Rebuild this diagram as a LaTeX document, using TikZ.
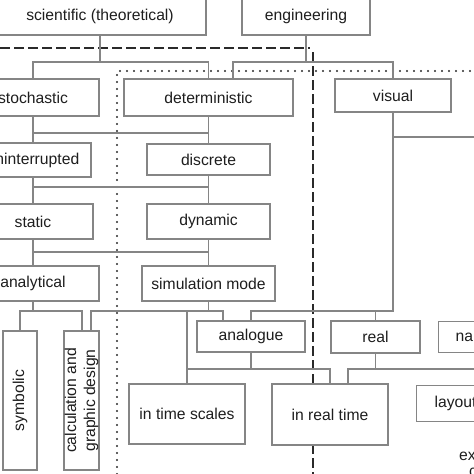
\documentclass[tikz,border=0pt]{standalone}
\usepackage{fontspec}
\setmainfont{Liberation Sans}
\definecolor{linegray}{HTML}{858585}
\definecolor{textc}{HTML}{1E1E1E}
\definecolor{divc}{HTML}{2A2A2A}
\begin{document}
\begin{tikzpicture}[x=1pt,y=-1pt,
  box/.style={draw=linegray, line width=1.2pt, fill=white, text=textc,
    font=\fontsize{15.7}{19}\selectfont, inner sep=0pt},
  conn/.style={draw=linegray, line width=1.2pt},
  dashdiv/.style={draw=divc, line width=2pt, dash pattern=on 9.5pt off 4.5pt},
  dotdiv/.style={draw=divc, line width=2.2pt, line cap=round, dash pattern=on 0pt off 7pt},
  frag/.style={text=textc, font=\fontsize{15.7}{19}\selectfont, inner sep=0pt}]
\useasboundingbox (0,0) rectangle (474,474);
\clip (0,0) rectangle (474,474);

% row coordinates
\coordinate (r1) at (0,62);
\coordinate (r2) at (0,133);
\coordinate (r3) at (0,187);
\coordinate (r4) at (0,252);
\coordinate (r5) at (0,311);
\coordinate (r6) at (0,369);
\coordinate (vR) at (474,137);
\coordinate (r6e) at (474,369);

% dividers
\draw[dashdiv] (0,48) -- (310,48);
\draw[dashdiv] (313,52) -- (313,474);
\draw[dotdiv] (117,474) -- (117,71) -- (474,71);

% boxes (positions)
\path
  (100,16.5) node[box, minimum width=212pt, minimum height=37pt] (sci) {scientific (theoretical)}
  (306,16.5) node[box, minimum width=128pt, minimum height=37pt] (eng) {engineering}
  (33,97.5) node[box, minimum width=132pt, minimum height=37pt] (sto) {stochastic}
  (208.5,97.5) node[box, minimum width=169pt, minimum height=37pt] (det) {deterministic}
  (393,95.5) node[box, minimum width=116pt, minimum height=33pt] (vis) {visual}
  (33,160) node[box, minimum width=116pt, minimum height=34pt] (unint) {uninterrupted}
  (208.5,159.5) node[box, minimum width=123pt, minimum height=31pt] (disc) {discrete}
  (33,221.5) node[box, minimum width=120pt, minimum height=35pt] (stat) {static}
  (208.5,221.5) node[box, minimum width=123pt, minimum height=35pt] (dyn) {dynamic}
  (33,283.5) node[box, minimum width=132pt, minimum height=35pt] (ana) {analytical}
  (208.5,283.5) node[box, minimum width=133pt, minimum height=35pt] (sim) {simulation mode}
  (20,400.5) node[box, minimum width=34pt, minimum height=139pt] (sym) {}
  (81.5,400.5) node[box, minimum width=35pt, minimum height=139pt] (calc) {}
  (251,336.5) node[box, minimum width=108pt, minimum height=31pt] (analog) {analogue}
  (375.5,337) node[box, minimum width=89pt, minimum height=32pt] (real) {real}
  (187,414) node[box, minimum width=116pt, minimum height=60pt] (tsc) {in time scales}
  (330,414.5) node[box, minimum width=116pt, minimum height=61pt] (rtime) {in real time};

\coordinate (detE) at ([xshift=24.5pt]det.north);
\coordinate (calcL) at ([xshift=0.5pt]calc.north);
\coordinate (calcR) at ([xshift=9.5pt]calc.north);
\coordinate (anaE) at ([xshift=-28pt]analog.north);
\coordinate (rtE) at ([xshift=18pt]rtime.north);

% connectors
\draw[conn] (sci.south) -- (sci.south |- r1);
\draw[conn] (sto.north) -- (sto.north |- r1) -| (det.north);
\draw[conn] (eng.south) -- (eng.south |- r1);
\draw[conn] (detE) -- (detE |- r1) -| (vis.north);
\draw[conn] (sto.south) -- (unint.north);
\draw[conn] (det.south) -- (disc.north);
\draw[conn] (sto.south |- r2) -- (det.south |- r2);
\draw[conn] (unint.south) -- (stat.north);
\draw[conn] (disc.south) -- (dyn.north);
\draw[conn] (unint.south |- r3) -- (disc.south |- r3);
\draw[conn] (stat.south) -- (ana.north);
\draw[conn] (dyn.south) -- (sim.north);
\draw[conn] (stat.south |- r4) -- (dyn.south |- r4);
\draw[conn] (ana.south) -- (ana.south |- r5);
\draw[conn] (sym.north) -- (sym.north |- r5) -| (calcL);
\draw[conn] (sim.south) -- (sim.south |- r5);
\draw[conn] (calcR) -- (calcR |- r5) -| (anaE);
\draw[conn] (tsc.north) -- (tsc.north |- r5);
\draw[conn] (vis.south) -- (vis.south |- r5) -| (analog.north);
\draw[conn] (real.north) -- (real.north |- r5);
\draw[conn] (vis.south |- vR) -- (vR);
\draw[conn] (analog.south) -- (analog.south |- r6);
\draw[conn] (tsc.north |- r6) -- (rtime.north |- r6) -- (rtime.north);
\draw[conn] (real.south) -- (real.south |- r6);
\draw[conn] (rtE) -- (rtE |- r6) -- (r6e);

% redraw boxes on top
\path
  (100,16.5) node[box, minimum width=212pt, minimum height=37pt] {scientific (theoretical)}
  (306,16.5) node[box, minimum width=128pt, minimum height=37pt] {engineering}
  (208.5,97.5) node[box, minimum width=169pt, minimum height=37pt] {deterministic}
  (330,414.5) node[box, minimum width=116pt, minimum height=61pt] {in real time};

% rotated texts
\node[frag, rotate=90] (symt) at (sym.center) {symbolic};
\node[frag, rotate=90, align=center] (calct) at (calc.center) {calculation and\\graphic design};

% partially visible boxes on the right
\node[box, anchor=north west, minimum height=31pt, inner xsep=17pt] (nat) at (438,321) {na\hspace{30pt}};
\node[box, anchor=north west, minimum height=36pt, inner xsep=18pt] (lay) at (416,385) {layout\hspace{30pt}};
\node[frag, anchor=base west] (ex) at (459,460) {ex};
\node[frag, anchor=base west] (c) at (469,476.5) {c};
\end{tikzpicture}
\end{document}
